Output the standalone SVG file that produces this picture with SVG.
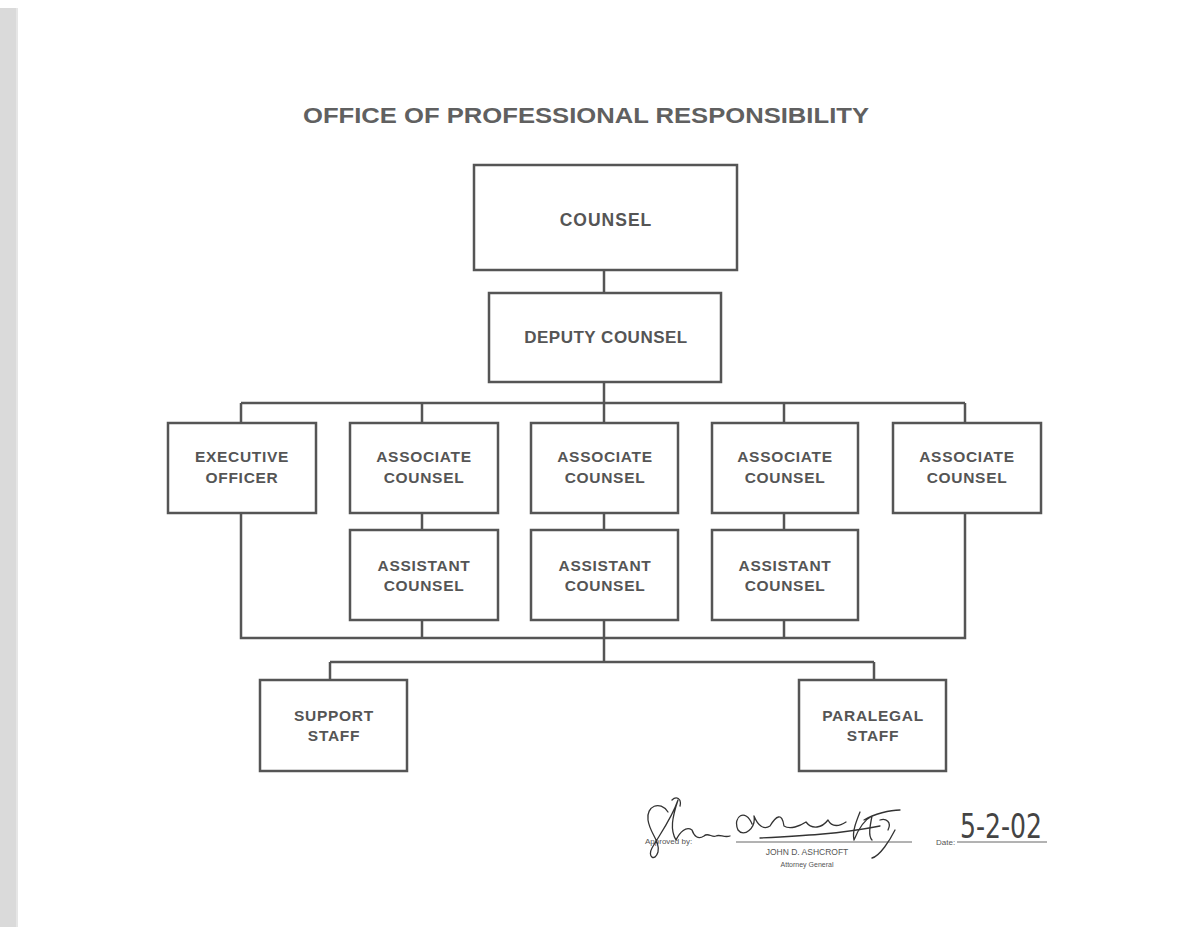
<svg xmlns="http://www.w3.org/2000/svg" width="1200" height="927" viewBox="0 0 1200 927">
<style>
.box{fill:#fff;stroke:#555;stroke-width:2.5}
.lbl{font-family:"Liberation Sans",Arial,sans-serif;font-weight:bold;font-size:15.5px;letter-spacing:0.7px;fill:#555;text-anchor:middle}
.big{font-size:17.5px;letter-spacing:1px}
.mid{font-size:17px;letter-spacing:0.5px}
.ttl{font-family:"Liberation Sans",Arial,sans-serif;font-weight:bold;font-size:22px;fill:#606060}
.ln{fill:none;stroke:#555;stroke-width:2.5}
.sig{fill:none;stroke:#333;stroke-width:1.3;stroke-linecap:round;stroke-linejoin:round}
.sm{font-family:"Liberation Sans",Arial,sans-serif;fill:#555}
</style>
<rect width="1200" height="927" fill="#fff"/>
<rect x="0" y="8" width="17" height="919" fill="#dadada"/>
<rect x="16" y="8" width="2" height="919" fill="#e6e6e6"/>
<text class="ttl" x="303" y="123" textLength="566" lengthAdjust="spacingAndGlyphs">OFFICE OF PROFESSIONAL RESPONSIBILITY</text>
<g id="connectors">
<path class="ln" d="M604 270V293M604 382V403M241 403H965M241 403V423M422 403V423M604 403V423M784 403V423M965 403V423"/>
<path class="ln" d="M422 513V530M604 513V530M784 513V530"/>
<path class="ln" d="M241 513V638H965V513M422 620V638M604 620V638M784 620V638"/>
<path class="ln" d="M604 638V662M330 662H874M330 662V680M874 662V680"/>
</g>
<g id="counsel"><rect class="box" x="474" y="165" width="263" height="105"/><text class="lbl big" x="606" y="226">COUNSEL</text></g>
<g id="deputy"><rect class="box" x="489" y="293" width="232" height="89"/><text class="lbl mid" x="606" y="343">DEPUTY COUNSEL</text></g>
<g id="exec"><rect class="box" x="168" y="423" width="148" height="90"/><text class="lbl" x="242" y="462">EXECUTIVE</text><text class="lbl" x="242" y="483">OFFICER</text></g>
<g id="assoc1"><rect class="box" x="350" y="423" width="148" height="90"/><text class="lbl" x="424" y="462">ASSOCIATE</text><text class="lbl" x="424" y="483">COUNSEL</text></g>
<g id="assoc2"><rect class="box" x="531" y="423" width="147" height="90"/><text class="lbl" x="605" y="462">ASSOCIATE</text><text class="lbl" x="605" y="483">COUNSEL</text></g>
<g id="assoc3"><rect class="box" x="712" y="423" width="146" height="90"/><text class="lbl" x="785" y="462">ASSOCIATE</text><text class="lbl" x="785" y="483">COUNSEL</text></g>
<g id="assoc4"><rect class="box" x="893" y="423" width="148" height="90"/><text class="lbl" x="967" y="462">ASSOCIATE</text><text class="lbl" x="967" y="483">COUNSEL</text></g>
<g id="asst1"><rect class="box" x="350" y="530" width="148" height="90"/><text class="lbl" x="424" y="571">ASSISTANT</text><text class="lbl" x="424" y="591">COUNSEL</text></g>
<g id="asst2"><rect class="box" x="531" y="530" width="147" height="90"/><text class="lbl" x="605" y="571">ASSISTANT</text><text class="lbl" x="605" y="591">COUNSEL</text></g>
<g id="asst3"><rect class="box" x="712" y="530" width="146" height="90"/><text class="lbl" x="785" y="571">ASSISTANT</text><text class="lbl" x="785" y="591">COUNSEL</text></g>
<g id="support"><rect class="box" x="260" y="680" width="147" height="91"/><text class="lbl" x="334" y="721">SUPPORT</text><text class="lbl" x="334" y="741">STAFF</text></g>
<g id="paralegal"><rect class="box" x="799" y="680" width="147" height="91"/><text class="lbl" x="873" y="721">PARALEGAL</text><text class="lbl" x="873" y="741">STAFF</text></g>
<g id="signature">
<text class="sm" x="645" y="844" font-size="8">Approved by:</text>
<line x1="736" y1="842" x2="912" y2="842" stroke="#666" stroke-width="1"/>
<text class="sm" x="807" y="855" font-size="8.5" text-anchor="middle">JOHN D. ASHCROFT</text>
<text class="sm" x="807" y="867" font-size="7" text-anchor="middle">Attorney General</text>
<text class="sm" x="936" y="845" font-size="8">Date:</text>
<line x1="957" y1="842" x2="1047" y2="842" stroke="#666" stroke-width="1"/>
<text x="960" y="838" font-family="'DejaVu Sans',sans-serif" font-size="34" fill="#444" textLength="82" lengthAdjust="spacingAndGlyphs">5-2-02</text>
<path class="sig" d="M668 812C660 800 646 806 648 820C650 834 660 840 658 852C655 862 647 857 652 848C660 834 672 818 678 800C672 818 670 830 676 840C680 832 686 826 692 830C694 836 698 840 704 836C708 832 712 838 716 836C720 834 724 838 730 836"/>
<path class="sig" d="M672 800C676 796 682 798 680 806M752 824C746 808 732 816 738 830C744 838 756 828 754 816C758 826 764 830 770 826C776 816 782 812 784 826C790 830 800 826 806 822C812 830 822 828 828 820C832 828 840 826 846 822M760 838C800 836 840 834 880 826"/>
<path class="sig" d="M860 812C856 822 852 832 854 840C858 830 864 820 872 816C870 826 868 836 872 840M864 820C874 814 890 810 900 810M880 820C886 818 892 822 888 830"/>
<path class="sig" d="M895 830C890 840 880 856 872 858"/>
</g>
</svg>
